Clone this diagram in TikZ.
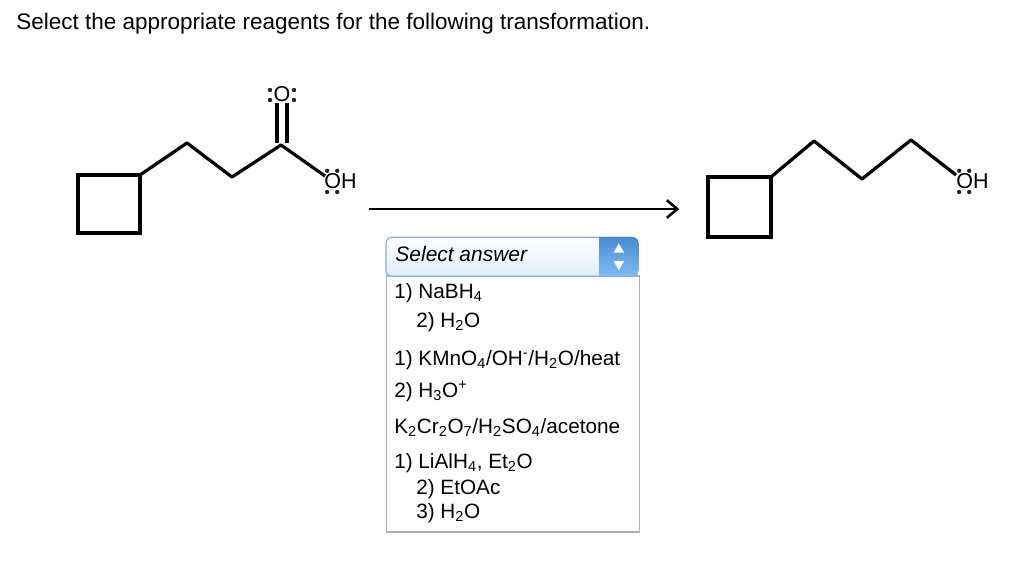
\documentclass[tikz,border=0pt]{standalone}
\usepackage{fontspec}
\setmainfont{Liberation Sans}
\usepackage{pgf,tikz}
\usetikzlibrary{shapes.geometric, arrows.meta}
\definecolor{boxGray}{RGB}{175,175,175}
\definecolor{selBorder}{RGB}{125,175,225}
\definecolor{selBottom}{RGB}{225,238,250}
\definecolor{btnTop}{RGB}{72,140,208}
\definecolor{btnBottom}{RGB}{125,188,245}
\tikzstyle{nodoTxt} = [anchor=base west, inner sep=0pt, font=\fontsize{14.75}{16}\selectfont]
\tikzstyle{nodoAtom} = [inner sep=0pt, font=\fontsize{15.3}{16}\selectfont]
\tikzstyle{nodoDot} = [circle, fill=black!85, inner sep=0pt, minimum size=3.1pt]
\tikzstyle{nodoTri} = [regular polygon, regular polygon sides=3, fill=white, inner sep=0pt, minimum size=0.31cm]
\tikzstyle{bond} = [line width=2.3pt, line join=miter]
\newcommand{\subs}[1]{\textsubscript{#1}}
\begin{document}
\begin{tikzpicture}
    \useasboundingbox (0,0) rectangle (25.6,-14.15);
    \node (Title) [nodoTxt, font=\fontsize{16}{18}\selectfont] at (0.4,-0.74) {Select the appropriate reagents for the following transformation.};

    % starting material
    \coordinate (A1) at (1.95,-4.375);
    \coordinate (A2) at (3.5,-4.375);
    \coordinate (A3) at (3.5,-5.825);
    \coordinate (A4) at (1.95,-5.825);
    \coordinate (A5) at (4.675,-3.575);
    \coordinate (A6) at (5.8,-4.425);
    \coordinate (A7) at (7.025,-3.625);
    \coordinate (A8) at (8.125,-4.4);
    \coordinate (AD1) at (6.925,-3.58);
    \coordinate (AD2) at (6.925,-2.575);
    \coordinate (AD3) at (7.175,-3.58);
    \coordinate (AD4) at (7.175,-2.575);
    \node (AO) [nodoAtom] at (7.05,-2.35) {O};
    \node (AOH) [nodoAtom, anchor=west] at (8.1,-4.53) {OH};
    \node (AD5) [nodoDot] at (6.75,-2.25) {};
    \node (AD6) [nodoDot] at (6.75,-2.5) {};
    \node (AD7) [nodoDot] at (7.35,-2.25) {};
    \node (AD8) [nodoDot] at (7.35,-2.5) {};
    \node (AD9) [nodoDot] at (8.18,-4.27) {};
    \node (AD10) [nodoDot] at (8.43,-4.27) {};
    \node (AD11) [nodoDot] at (8.18,-4.8) {};
    \node (AD12) [nodoDot] at (8.43,-4.8) {};
    \draw [bond] (A1) -- (A2) -- (A3) -- (A4) -- cycle;
    \draw [bond, line join=round] (A2) -- (A5) -- (A6) -- (A7) -- (A8);
    \draw [bond] (AD1) -- (AD2);
    \draw [bond] (AD3) -- (AD4);

    % product
    \coordinate (B1) at (17.7,-4.425);
    \coordinate (B2) at (19.275,-4.425);
    \coordinate (B3) at (19.275,-5.925);
    \coordinate (B4) at (17.7,-5.925);
    \coordinate (B5) at (20.35,-3.525);
    \coordinate (B6) at (21.55,-4.475);
    \coordinate (B7) at (22.775,-3.5);
    \coordinate (B8) at (23.9,-4.375);
    \node (BOH) [nodoAtom, anchor=west] at (23.9,-4.53) {OH};
    \node (BD1) [nodoDot] at (23.98,-4.27) {};
    \node (BD2) [nodoDot] at (24.23,-4.27) {};
    \node (BD3) [nodoDot] at (23.98,-4.8) {};
    \node (BD4) [nodoDot] at (24.23,-4.8) {};
    \draw [bond] (B1) -- (B2) -- (B3) -- (B4) -- cycle;
    \draw [bond, line join=round] (B2) -- (B5) -- (B6) -- (B7) -- (B8);

    % reaction arrow
    \coordinate (ArrS) at (9.225,-5.225);
    \coordinate (ArrE) at (16.98,-5.225);
    \draw [line width=1.8pt, -{Straight Barb[length=2.6mm, width=4.4mm, line width=1.8pt]}] (ArrS) -- (ArrE);

    % answer list
    \node (List) [rectangle, draw=boxGray, line width=0.8pt, minimum width=6.33cm, minimum height=6.4cm, inner sep=0pt] at (12.83,-10.1) {};
    \node (Sel) [rectangle, rounded corners=0.15cm, draw=selBorder, line width=0.8pt, top color=white, bottom color=selBottom, minimum width=6.3cm, minimum height=0.975cm, inner sep=0pt] at (12.8,-6.42) {};
    \shade [top color=btnTop, bottom color=btnBottom] (14.98,-5.93) [rounded corners=0.15cm] -- (15.97,-5.93) -- (15.97,-6.9) [sharp corners] -- (14.98,-6.9) -- cycle;
    \node (Up) [nodoTri] at (15.47,-6.24) {};
    \node (Down) [nodoTri, shape border rotate=180] at (15.47,-6.6) {};
    \node (SelTxt) [nodoTxt, font=\fontsize{14.9}{16}\selectfont] at (9.88,-6.53) {\itshape Select answer};

    \node (R1) [nodoTxt] at (9.85,-7.46) {1) NaBH\subs{4}};
    \node (R2) [nodoTxt] at (10.4,-8.18) {2) H\subs{2}O};
    \node (R3) [nodoTxt] at (9.85,-9.13) {1) KMnO\subs{4}/OH\textsuperscript{-}/H\subs{2}O/heat};
    \node (R4) [nodoTxt] at (9.85,-9.93) {2) H\subs{3}O\textsuperscript{+}};
    \node (R5) [nodoTxt] at (9.85,-10.83) {K\subs{2}Cr\subs{2}O\subs{7}/H\subs{2}SO\subs{4}/acetone};
    \node (R6) [nodoTxt] at (9.85,-11.7) {1) LiAlH\subs{4}, Et\subs{2}O};
    \node (R7) [nodoTxt] at (10.4,-12.36) {2) EtOAc};
    \node (R8) [nodoTxt] at (10.4,-12.95) {3) H\subs{2}O};
\end{tikzpicture}
\end{document}
